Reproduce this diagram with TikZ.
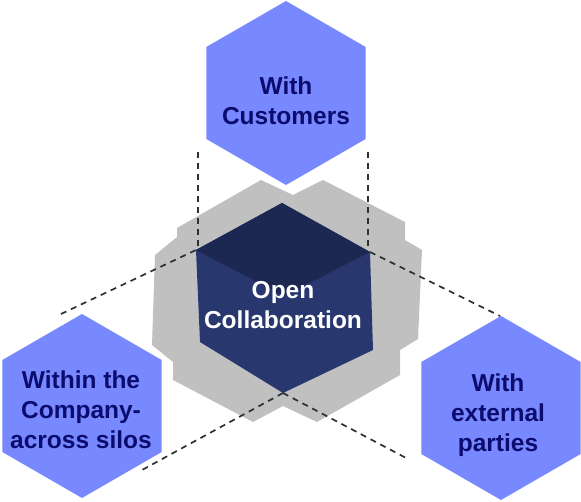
\documentclass[tikz,border=0pt]{standalone}
\usepackage{fontspec}
\setmainfont{Liberation Sans}
\usetikzlibrary{shapes.geometric}
\definecolor{hexblue}{RGB}{120,137,255}
\definecolor{hexnavy}{RGB}{12,12,110}
\definecolor{cubefront}{RGB}{40,56,110}
\definecolor{cubetop}{RGB}{28,39,82}
\definecolor{shadowgray}{RGB}{192,192,192}
\definecolor{guidegray}{RGB}{40,50,50}
\begin{document}
\begin{tikzpicture}[x=1pt, y=-1pt, font=\fontsize{24.5}{30}\selectfont\bfseries,
        hexa/.style={regular polygon, regular polygon sides=6, shape border rotate=30,
            minimum size=184pt, inner sep=0pt, fill=hexblue},
        hextext/.style={text=hexnavy, align=center},
        guide/.style={guidegray, line width=1.7pt, dash pattern=on 6pt off 5pt}]
        \useasboundingbox (0,0) rectangle (581,502);
        % grey shadow behind the cube
        \fill[shadowgray] (261,180) -- (293,195) -- (323,180) -- (405,222) -- (405,240)
            -- (422,250) -- (418,339) -- (400,350) -- (400,375) -- (317,422) -- (283,406)
            -- (253,422) -- (173,380) -- (173,362) -- (152,345) -- (155,255) -- (177,237)
            -- (177,228) -- cycle;
        % cube corners
        \coordinate (ct) at (282,203);
        \coordinate (cl) at (196,250);
        \coordinate (cr) at (370,252);
        \coordinate (cm) at (284,296);
        \coordinate (cbl) at (200,342);
        \coordinate (cbr) at (373,350);
        \coordinate (cb) at (283,393);
        % loose ends of the guides
        \coordinate (tl) at (198,152);
        \coordinate (tr) at (368,152);
        \coordinate (ul) at (61,314);
        \coordinate (ur) at (500,316);
        \coordinate (ll) at (142,470);
        \coordinate (lr) at (408,459);
        \draw[guide] (tl) -- (198,246);
        \draw[guide] (tr) -- (368,246);
        \draw[guide] (ul) -- (cl);
        \draw[guide] (cr) -- (ur);
        \draw[guide] (cb) -- (ll);
        \draw[guide] (cb) -- (lr);
        % the cube
        \fill[cubefront] (cl) -- (ct) -- (cr) -- (cbr) -- (cb) -- (cbl) -- cycle;
        \fill[cubetop] (cl) -- (ct) -- (cr) -- (cm) -- cycle;
        \node[text=white, align=center] (open) at (283,305) {Open\\Collaboration};
        % the three partners
        \node[hexa] (cust) at (286,93) {};
        \node[hextext] (cust-t) at (286,101) {With\\Customers};
        \node[hexa] (comp) at (82,406) {};
        \node[hextext] (comp-t) at (81,410) {Within the\\Company-\\across silos};
        \node[hexa] (ext) at (501,408) {};
        \node[hextext] (ext-t) at (498,415) {With\\external\\parties};
\end{tikzpicture}
\end{document}
